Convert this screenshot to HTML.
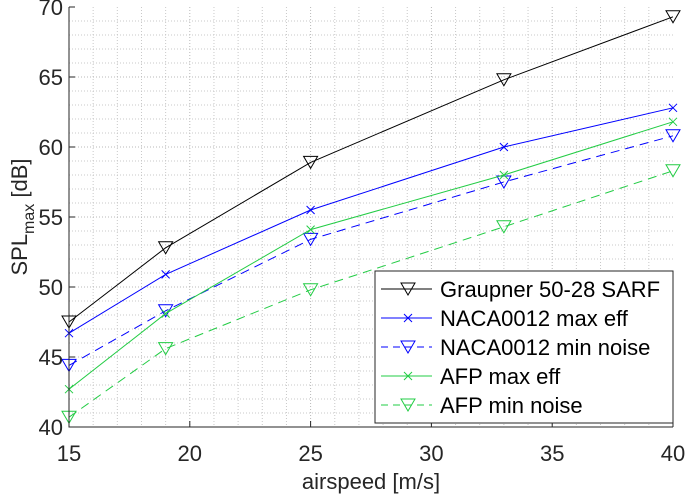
<!DOCTYPE html>
<html><head><meta charset="utf-8"><style>
body{margin:0;background:#fff}
svg{font-family:"Liberation Sans",Arial,sans-serif}
</style></head><body>
<svg id="chart" width="685" height="494" viewBox="0 0 685 494" xmlns="http://www.w3.org/2000/svg">
<g id="grid"></g>
<g id="series"></g>
<g id="axes"></g>
<g id="legend"></g>
</svg>
<script>
const xValues=[15,19,25,33,40];
const graupner=[47.5,52.8,58.9,64.8,69.3];
const nacaMaxEff=[46.7,50.9,55.5,60.0,62.8];
const nacaMinNoise=[44.4,48.3,53.4,57.5,60.8];
const afpMaxEff=[42.7,48.1,54.1,58.0,61.8];
const afpMinNoise=[40.7,45.6,49.8,54.3,58.3];
const xTicks=[15,20,25,30,35,40];
const yTicks=[40,45,50,55,60,65,70];
const legendLabels=["Graupner 50-28 SARF","NACA0012 max eff","NACA0012 min noise","AFP max eff","AFP min noise"];

const NS="http://www.w3.org/2000/svg";
const L=69,R=673,T=7,B=427;
const sx=v=>L+(v-15)/25*(R-L);
const sy=v=>B-(v-40)/30*(B-T);
function mk(tag,attrs,parent){const e=document.createElementNS(NS,tag);for(const k in attrs)e.setAttribute(k,attrs[k]);parent.appendChild(e);return e;}
const grid=document.getElementById('grid'),axes=document.getElementById('axes'),ser=document.getElementById('series'),leg=document.getElementById('legend');

for(let v=16;v<40;v++){const l=mk('line',{x1:sx(v),x2:sx(v),y1:T,y2:B,stroke:v%5?'#c8c8c8':'#b8b8b8','stroke-width':1,'stroke-dasharray':'1,2'},grid);

}
for(let v=41;v<70;v++){const l=mk('line',{x1:L,x2:R,y1:sy(v),y2:sy(v),stroke:v%5?'#c8c8c8':'#b8b8b8','stroke-width':1,'stroke-dasharray':'1,2'},grid);

}

const frame=mk('path',{d:`M${L},${T}V${B}H${R}`,fill:'none',stroke:'#262626','stroke-width':1},axes);


xTicks.forEach(v=>{mk('line',{x1:sx(v),x2:sx(v),y1:B,y2:B-6,stroke:'#262626'},axes);
const t=mk('text',{x:sx(v),y:461,'text-anchor':'middle','font-size':22,fill:'#262626'},axes);t.textContent=v;

});
yTicks.forEach(v=>{mk('line',{x1:L,x2:L+6,y1:sy(v),y2:sy(v),stroke:'#262626'},axes);
const t=mk('text',{x:L-6,y:sy(v)+8,'text-anchor':'end','font-size':22,fill:'#262626'},axes);t.textContent=v;

});
const xt=mk('text',{x:371,y:489,'text-anchor':'middle','font-size':22,fill:'#262626'},axes);xt.textContent='airspeed [m/s]';


const yt=mk('text',{transform:'translate(27,217) rotate(-90)','text-anchor':'middle','font-size':22,fill:'#262626'},axes);
yt.innerHTML='SPL<tspan font-size="16" dy="7">max</tspan><tspan dy="-7"> [dB]</tspan>';



function marker(type,x,y,color,parent){
 if(type==='tri') return mk('path',{d:`M${x-7},${y-6}L${x+7},${y-6}L${x},${y+6}Z`,fill:'none',stroke:color,'stroke-width':1},parent);
 return mk('path',{d:`M${x-4},${y-4}L${x+4},${y+4}M${x-4},${y+4}L${x+4},${y-4}`,fill:'none',stroke:color,'stroke-width':1},parent);
}
const seriesDefs=[
 {data:graupner,color:'#000000',dash:'',m:'tri',name:'graupner-series'},
 {data:nacaMaxEff,color:'#0000ff',dash:'',m:'x',name:'naca-max-eff-series'},
 {data:nacaMinNoise,color:'#0000ff',dash:'9,6',m:'tri',name:'naca-min-noise-series'},
 {data:afpMaxEff,color:'#22cc44',dash:'',m:'x',name:'afp-max-eff-series'},
 {data:afpMinNoise,color:'#22cc44',dash:'9,6',m:'tri',name:'afp-min-noise-series'}];
seriesDefs.forEach(s=>{
 const g=mk('g',{},ser);
 
 
 const p=mk('polyline',{points:s.data.map((v,i)=>sx(xValues[i])+','+sy(v)).join(' '),fill:'none',stroke:s.color,'stroke-width':1,'stroke-dasharray':s.dash},g);
 
 
 s.data.forEach((v,i)=>{const m=marker(s.m,sx(xValues[i]),sy(v),s.color,g);
 
 });
});

const box=mk('rect',{x:375,y:271,width:298,height:152,fill:'#fff',stroke:'#262626','stroke-width':1},leg);


seriesDefs.forEach((s,i)=>{
 const y=289+i*29;
 const g=mk('g',{},leg);
 
 
 mk('line',{x1:381,x2:432,y1:y,y2:y,stroke:s.color,'stroke-width':1,'stroke-dasharray':s.dash?'7,5':''},g);
 marker(s.m,408,y,s.color,g);
 const t=mk('text',{x:440,y:y+8,'font-size':22,fill:'#000'},g);t.textContent=legendLabels[i];
});
</script>
</body></html>
